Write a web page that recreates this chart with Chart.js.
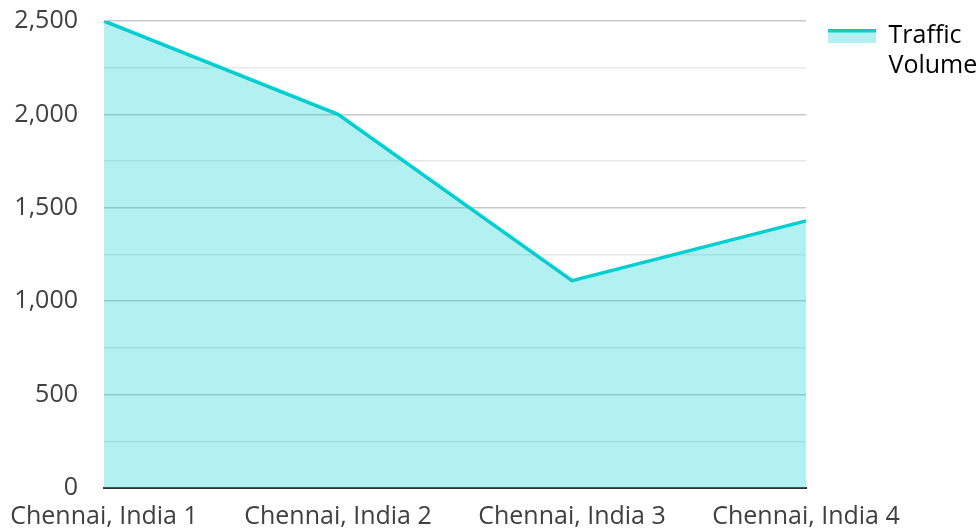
<!DOCTYPE html>
<html>
<head>
<meta charset="utf-8">
<script src="https://cdn.jsdelivr.net/npm/chart.js@4"></script>
<style>
  html, body { margin: 0; padding: 0; background: #fff; }
  #wrap { width: 979px; height: 529px; }
</style>
</head>
<body>
<div id="wrap"><canvas id="trafficChart"></canvas></div>
<script>
const categories = ['Chennai, India 1', 'Chennai, India 2', 'Chennai, India 3', 'Chennai, India 4'];
const trafficVolume = [2500, 2000, 1110, 1430];
const seriesLabel = ['Traffic', 'Volume'];

const lineColor = '#00ced1';
const fillColor = 'rgba(0, 206, 209, 0.3)';

// legend swatch: thick line on top of a light fill, with an empty strip on the left
const swatchGap = 12;
const swatchW = 60;
function makeSwatch () {
  const c = document.createElement('canvas');
  c.width = swatchW;
  c.height = 14;
  const g = c.getContext('2d');
  g.fillStyle = fillColor;
  g.fillRect(swatchGap, 0, swatchW - swatchGap, 14);
  g.fillStyle = lineColor;
  g.fillRect(swatchGap, 0, swatchW - swatchGap, 4);
  return c;
}
const swatch = makeSwatch();

// legend measures only the longest string by length ("Traffic"), give it room for "Volume"
const widerLegend = {
  id: 'widerLegend',
  afterInit (chart) {
    const legend = chart.legend;
    const fit = legend.fit;
    legend.fit = function () {
      fit.call(this);
      this.width += 7.5;
      this.right = this.left + this.width;
    };
  }
};

Chart.defaults.font.family = '"Open Sans", "Noto Sans", sans-serif';

const ctx = document.getElementById('trafficChart').getContext('2d');
const trafficChart = new Chart(ctx, {
  type: 'line',
  data: {
    labels: categories,
    datasets: [{
      label: seriesLabel.join(' '),
      data: trafficVolume,
      borderColor: lineColor,
      backgroundColor: fillColor,
      borderWidth: 3.5,
      fill: 'origin',
      pointRadius: 0,
      tension: 0
    }]
  },
  options: {
    responsive: true,
    maintainAspectRatio: false,
    animation: false,
    layout: { padding: { top: 13, right: 0, left: 0, bottom: 0 } },
    scales: {
      x: {
        grid: { display: false, drawTicks: false },
        border: { color: '#333', width: 2 },
        ticks: { color: '#404040', font: { size: 25 }, padding: 14, maxRotation: 0, autoSkip: false },
        afterFit: scale => {
          scale.height = 41;
          scale.paddingLeft = 0;
          scale.paddingRight = 0;
        }
      },
      y: {
        min: 0,
        max: 2500,
        grid: {
          drawTicks: false,
          color: c => (c.tick && c.tick.value % 500 === 0) ? '#c8c8c8' : '#e8e8e8',
          lineWidth: 1.5
        },
        border: { display: false },
        ticks: {
          stepSize: 250,
          color: '#404040',
          font: { size: 25 },
          padding: 26,
          callback: v => v % 500 === 0 ? v.toLocaleString('en-US') : ''
        },
        afterFit: scale => {
          scale.width = 104;
          scale.paddingTop = 21;
          scale.paddingBottom = 41;
        }
      }
    },
    plugins: {
      tooltip: { enabled: false },
      legend: {
        position: 'right',
        align: 'start',
        labels: {
          color: '#262626',
          font: { size: 25 },
          usePointStyle: true,
          pointStyleWidth: swatchW,
          boxHeight: 14,
          padding: 10,
          generateLabels: chart => chart.data.datasets.map((ds, i) => ({
            text: seriesLabel,
            pointStyle: swatch,
            fillStyle: ds.backgroundColor,
            strokeStyle: ds.borderColor,
            lineWidth: 0,
            hidden: false,
            datasetIndex: i
          }))
        }
      }
    }
  },
  plugins: [widerLegend]
});
</script>
</body>
</html>
